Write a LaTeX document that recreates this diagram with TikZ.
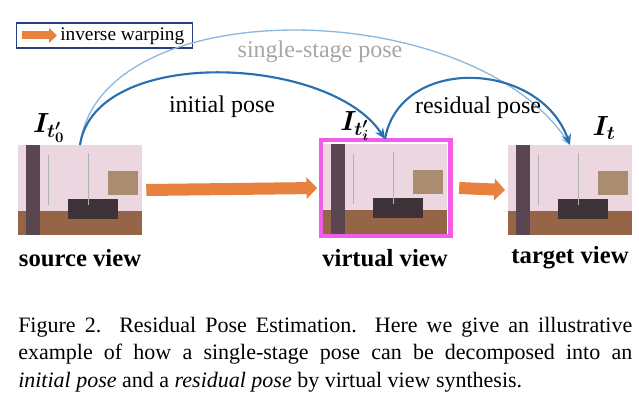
\documentclass[tikz,border=0pt]{standalone}
\usepackage{fontspec}
\setmainfont{Liberation Serif}
\usetikzlibrary{arrows.meta}
\definecolor{arcblue}{HTML}{2A6FB0}
\definecolor{lightarc}{HTML}{8DB8DE}
\definecolor{warp}{HTML}{E8803E}
\definecolor{frame}{HTML}{F25CE8}
\tikzset{
 pic/.style={draw=none,minimum width=93pt,minimum height=67.5pt,inner sep=0pt},
 lbl/.style={font=\fontsize{18.5}{20}\selectfont\bfseries},
 arcl/.style={font=\fontsize{18}{20}\selectfont},
 ilbl/.style={font=\fontsize{21}{22}\selectfont\boldmath},
 arc/.style={draw=arcblue,line width=1.6pt,-{Stealth[length=8pt,width=7pt]}},
 warparrow/.style={draw=warp,line width=9pt,-{Triangle[length=8pt,width=16pt]}},
}
\newcommand{\roomscene}[2]{% lower-left corner x,y (px)
 \fill[fill={rgb,255:red,236;green,214;blue,224}] (#1,#2) rectangle ++(124,-90);
 \fill[fill={rgb,255:red,150;green,100;blue,70}] (#1,#2) rectangle ++(124,-24);
 \fill[fill={rgb,255:red,90;green,70;blue,80}] (#1+8,#2) rectangle ++(14,-90);
 \fill[fill={rgb,255:red,170;green,140;blue,110}] (#1+90,#2-40) rectangle ++(30,-24);
 \fill[fill={rgb,255:red,60;green,50;blue,55}] (#1+50,#2-16) rectangle ++(50,-20);
 \draw[gray!60] (#1+30,#2-30) -- ++(0,-50) (#1+70,#2-30) -- ++(0,-52);
}
\begin{document}
\begin{tikzpicture}[x=0.75pt,y=-0.75pt]
\useasboundingbox (0,0) rectangle (639,402);
% legend
\node[draw={rgb,255:red,40;green,60;blue,130},line width=1.4pt,minimum width=132pt,minimum height=19pt,inner sep=0pt] (leg) at (104.5,35.5) {};
\coordinate (l1) at (22,35.5); \coordinate (l2) at (57,35.5);
\draw[draw=warp,line width=6pt,-{Triangle[length=6pt,width=11pt]}] (l1) -- (l2);
\node[anchor=west,font=\fontsize{14.5}{16}\selectfont,inner sep=0pt] (legt) at (60,36) {inverse warping};
% pictures
\roomscene{18}{235}
\roomscene{323}{234}
\roomscene{508}{235}
\node[pic] (src) at (80,190) {};
\node[draw=frame,line width=3.5pt,minimum width=97pt,minimum height=72pt,inner sep=0pt] (vir) at (385.5,188) {};
\node[pic] (tgt) at (570,190) {};
% labels
\node[lbl] (s) at (80,258) {source view};
\node[lbl] (v) at (385,258) {virtual view};
\node[lbl] (t) at (570,258) {target view};
\node[ilbl] (i0) at (49,128) {$I_{t'_0}$};
\node[ilbl] (ii) at (355,126) {$I_{t'_i}$};
\node[ilbl] (it) at (604,128) {$I_{t}$};
% arcs
\coordinate (a0) at (80,145);
\coordinate (av) at (385,139);
\coordinate (at) at (570,145);
\draw[draw=lightarc,line width=1pt,-{Stealth[length=7pt,width=6pt]}] (a0) .. controls (100,-10) and (470,-5) .. (at);
\draw[arc] (a0) .. controls (95,45) and (330,55) .. (av);
\draw[arc] (av) .. controls (400,55) and (540,60) .. (at);
\node[arcl,text=gray!70] (ss) at (320,52) {single-stage pose};
\node[arcl] (ip) at (222,107) {initial pose};
\node[arcl] (rp) at (478,108) {residual pose};
% warping arrows
\draw[warparrow] ([xshift=3pt]src.east) -- ([xshift=-1pt]vir.west);
\draw[warparrow] ([xshift=5pt]vir.east) -- ([xshift=-2pt]tgt.west);
% caption
\node[anchor=north west,inner sep=0pt,text width=460.5pt,align=justify,font=\fontsize{16.5}{20.5}\selectfont] (cap) at (18,317) {Figure 2. Residual Pose Estimation.\ \ Here we give an illustrative\linebreak example of how a single-stage pose can be decomposed into an\linebreak \emph{initial pose} and a \emph{residual pose} by virtual view synthesis.};
\end{tikzpicture}
\end{document}
